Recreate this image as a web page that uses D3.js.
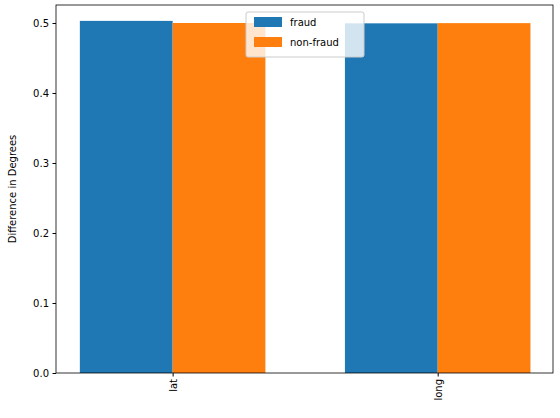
<!DOCTYPE html>
<html><head><meta charset="utf-8">
<script src="https://cdn.jsdelivr.net/npm/d3@7"></script>
<style>body{margin:0;background:#fff}text{font-family:"DejaVu Sans",sans-serif}</style>
</head><body><svg id="c" width="560" height="418"></svg>
<script>
const categories = ["lat","long"];
const seriesNames = ["fraud","non-fraud"];
const fraud = [0.503, 0.4995];
const nonFraud = [0.5, 0.4998];
const colors = ["#1f77b4","#ff7f0e"];
const yTicks = [0,0.1,0.2,0.3,0.4,0.5];

const svg = d3.select("#c");
const L=56,R=553,T=5,B=373;
const x = d3.scaleLinear().domain([-0.44,1.435]).range([L,R]);
const y = d3.scaleLinear().domain([0,0.5257]).range([B,T]);
const w = 0.35;
const series=[fraud,nonFraud];
series.forEach((s,si)=>{
  svg.selectAll(null).data(s).enter().append("rect")
   .attr("x",(d,i)=>x(i+(si-1)*w)).attr("width",x(w)-x(0))
   .attr("y",d=>y(d)).attr("height",d=>B-y(d)).attr("fill",colors[si]);
});
const ya = svg.append("g").attr("transform",`translate(${L},0)`)
 .call(d3.axisLeft(y).tickValues(yTicks).tickFormat(d3.format(".1f")).tickSize(3.5).tickPadding(3.5));
const xa = svg.append("g").attr("transform",`translate(0,${B})`)
 .call(d3.axisBottom(x).tickValues([0,1]).tickFormat(i=>categories[i]).tickSize(3.5));
xa.selectAll("text").attr("transform","rotate(-90)").attr("text-anchor","end")
 .attr("x",-6).attr("y",0).attr("dy","0.35em");
[ya,xa].forEach(a=>{a.select(".domain").remove();a.selectAll("text").attr("font-size",10).attr("fill","#000");a.selectAll("line").attr("stroke","#000");});
svg.append("rect").attr("x",L).attr("y",T).attr("width",R-L).attr("height",B-T).attr("fill","none").attr("stroke","#000").attr("stroke-width",0.8);
svg.append("text").attr("transform",`translate(16,${(T+B)/2}) rotate(-90)`).attr("text-anchor","middle").attr("font-size",10).text("Difference in Degrees");
const lg = svg.append("g").attr("transform","translate(246,12)");
lg.append("rect").attr("width",118).attr("height",45).attr("rx",2).attr("fill","#fff").attr("fill-opacity",0.8).attr("stroke","#ccc");
seriesNames.forEach((n,i)=>{
  lg.append("rect").attr("x",8).attr("y",5+i*20).attr("width",28).attr("height",10).attr("fill",colors[i]);
  lg.append("text").attr("x",44).attr("y",14+i*20).attr("font-size",10).text(n);
});
</script></body></html>
